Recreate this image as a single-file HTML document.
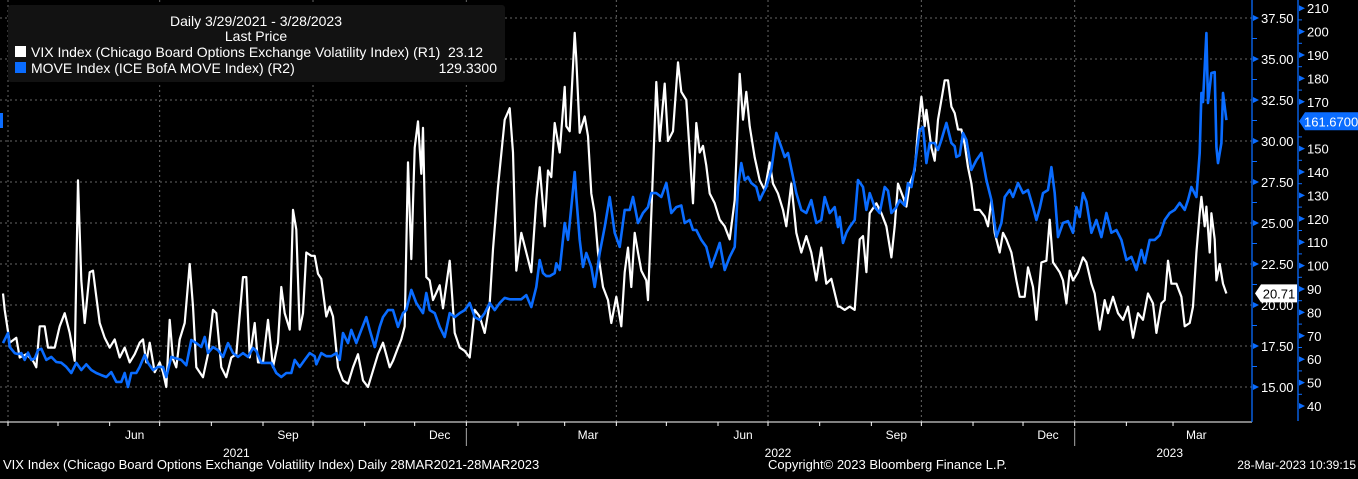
<!DOCTYPE html>
<html><head><meta charset="utf-8"><style>
html,body{margin:0;padding:0;background:#000;}
body{width:1358px;height:474px;overflow:hidden;font-family:"Liberation Sans",sans-serif;}
svg text{font-family:"Liberation Sans",sans-serif;}
</style></head><body>
<svg id="chart" width="1358" height="474" viewBox="0 0 1358 474" xmlns="http://www.w3.org/2000/svg">
<g id="grid"></g>
<g id="series"></g>
<g id="axes"></g>
<g>
<rect x="8" y="5" width="497" height="77" rx="3" fill="#121212"/>
<text x="256" y="26" fill="#fff" font-size="14" text-anchor="middle">Daily 3/29/2021 - 3/28/2023</text>
<text x="256" y="41" fill="#fff" font-size="14" text-anchor="middle">Last Price</text>
<rect x="15" y="46" width="11" height="11" fill="#fff"/>
<text x="31" y="57" fill="#fff" font-size="14">VIX Index (Chicago Board Options Exchange Volatility Index)  (R1)</text>
<text x="483" y="57" fill="#fff" font-size="14" text-anchor="end">23.12</text>
<rect x="15" y="62" width="11" height="11" fill="#0a6cff"/>
<text x="31" y="73" fill="#fff" font-size="14">MOVE Index (ICE BofA MOVE Index)  (R2)</text>
<text x="497" y="73" fill="#fff" font-size="14" text-anchor="end">129.3300</text>
</g>
<rect x="0" y="113" width="3" height="15" fill="#0a6cff"/>
<g>
<text x="3" y="469" fill="#fff" font-size="13">VIX Index (Chicago Board Options Exchange Volatility Index)  Daily 28MAR2021-28MAR2023</text>
<text x="768" y="469" fill="#fff" font-size="13">Copyright© 2023 Bloomberg Finance L.P.</text>
<text x="1356" y="469" fill="#fff" font-size="12" text-anchor="end">28-Mar-2023 10:39:15</text>
</g>
</svg>
<script>
const vixDays=[0,1,4,8,10,14,18,20,22,25,27,31,34,37,40,43,45,47,49,52,54,56,58,61,64,67,70,73,76,79,82,84,86,88,91,94,96,98,100,102,104,106,109,112,114,116,120,123,126,128,131,134,137,140,144,146,148,151,153,156,159,162,165,167,169,172,174,176,178,180,182,185,187,189,191,194,196,198,201,204,207,210,213,216,219,222,225,228,232,234,237,239,241,243,245,247,249,251,252,254,
256,258,262,264,268,271,274,277,280,283,286,289,292,294,297,301,304,306,308,311,314,317,320,322,325,327,329,331,334,337,338,340,343,344,346,349,351,353,355,357,360,363,365,368,371,373,375,377,379,381,383,386,387,390,392,394,397,399,402,405,407,410,412,414,416,418,420,422,424,427,430,433,436,439,442,444,446,448,451,454,457,460,462,465,468,470,473,476,479,482,485,488,491,494,497,501,
502,505,508,511,514,516,518,520,524,527,530,533,535,537,540,542,544,547,549,551,553,554,557,559,561,563,565,567,569,571,573,575,577,579,581,583,586,589,591,593,595,598,600,602,605,608,610,613,615,618,620,623,626,628,630,632,634,636,638,640,642,645,648,650,653,655,658,661,663,666,669,672,675,678,681,684,687,690,692,695,697,699,701,704,707,709,712,714,716,718,719,721,722,724,725,727,728,730,732,734];
const vixVals=[20.7,19.7,17.7,18,16.8,17,16.6,16.2,18.7,18.7,17.4,17.4,18.7,19.5,18.3,16.6,27.6,21.5,18.9,22,22.1,20.5,18.9,18,17.4,17.9,16.8,17.4,16.5,17,17.7,17.9,16.5,17.7,15.9,16.5,15.9,15,19.1,16.7,16.2,17.9,18.9,22.5,19.9,16.2,15.6,17,19.7,19.5,16.2,15.6,16.8,17,21.7,21.7,16.8,18.9,16.5,16.5,19.1,16.2,17.7,21.1,19.5,18.5,25.8,24.6,18.5,19.5,23.2,23,23,21.9,21.6,19.3,19.9,19.3,16.2,15.4,15.2,16.2,17,15.4,15,16,17,17.7,16.2,16.6,17.4,17.9,18.7,28.7,22.8,29.6,31.2,28,30.8,21.7,
21.5,20.3,21.2,19.8,22.7,18.3,17.4,17.2,16.8,19.7,19.3,18.3,20.1,23.4,27.2,31.3,32,29.3,22.1,24.4,23.2,22,26.4,28.4,24.8,28.2,27.8,31.1,29.3,33.3,30.9,30.6,36.6,35,30.5,31.5,30.3,26.8,25.6,23.2,21.1,20.3,18.9,20.5,18.7,22,23.5,21.1,24.4,23.2,22.1,21.5,20.3,28.2,33.6,30,33.5,30,30.6,34.8,33,32.5,29.3,26.2,31.1,29.3,29.7,28.5,26.8,26.2,25.2,24.8,24,26.4,34.1,31.3,33,30.9,29,27.6,27,28.7,27.4,26.8,25.8,24.8,27.4,24.4,23.2,24.2,23.2,21.5,23.5,21.3,21.6,19.9,
19.9,19.7,19.9,19.7,24,24.2,22,25.6,26.2,25.6,24.8,22.9,24.8,27.4,26.6,26,27.4,28.2,30.7,32.7,30.9,31.9,29.6,28.8,31.3,32.5,33.7,33.7,32.1,31.7,30.7,30.7,29.8,28.4,27.4,25.8,25.8,25.4,24.8,26.4,24.4,23.2,24.4,24,23.2,21.5,20.5,20.5,22.3,21.1,19.1,22.6,22.7,25.2,22.6,22.3,22,21.5,20.1,22.1,21.5,22,22.9,22.6,21.3,20.7,18.5,20.3,19.5,20.5,19.5,19.1,19.9,18,19.5,19.1,20.7,20.1,18.3,20.1,20.3,22.7,21.3,21.3,20.5,18.7,18.9,19.9,23.2,25.6,26.6,24.8,26,23.2,25.6,24,21.5,22.5,21.3,20.7];
const moveDays=[0,3,4,7,9,11,13,15,17,19,21,23,26,29,32,35,38,41,44,47,50,53,56,59,62,65,68,71,73,75,77,80,82,85,87,90,93,96,98,101,104,107,110,113,116,119,121,123,126,129,132,135,138,141,144,147,150,152,155,158,161,164,167,170,173,175,178,181,184,187,188,191,194,197,200,202,204,207,209,212,215,218,220,223,226,228,231,234,237,240,242,245,248,252,254,
256,259,262,265,268,271,274,277,280,283,286,289,292,295,298,301,304,308,311,314,317,320,322,324,326,328,331,332,334,337,339,341,343,344,346,348,350,353,355,358,361,364,367,370,373,376,378,381,384,387,389,392,395,398,401,404,407,409,412,414,416,419,422,425,428,430,433,436,439,441,443,445,447,449,452,454,456,458,461,464,467,469,471,474,476,479,482,485,488,491,493,496,499,501,
502,504,506,508,511,513,516,518,520,523,526,529,531,533,536,538,541,543,545,547,550,552,554,556,559,561,563,566,569,571,572,574,576,578,581,584,587,590,593,596,599,601,604,606,609,612,615,618,620,622,624,627,629,631,633,636,639,642,644,646,648,650,653,656,659,662,665,668,671,674,677,680,683,685,688,691,694,697,700,703,706,709,711,713,716,718,719,720,722,723,725,727,728,729,731,732,734];
const moveVals=[66.9,71.2,65.2,62.6,62.2,62.6,59.7,62.8,59.7,60.3,63.9,64.5,59.7,61,58.8,58.5,56.7,54.1,58.4,55.4,57.8,55.4,54.1,53.2,52.4,54.5,50.3,50.3,54.1,48.1,54.1,54.1,56.7,61.8,58.4,55.4,56.7,56.7,52.4,61,60.3,59.7,57.4,68.2,66.9,65.2,69.5,62.6,65.2,63.9,61,66.9,62.6,61,62.6,61,64.8,63.5,58.4,58.4,58.4,54.1,52.4,54.1,54.1,59.7,56.7,59.7,62.6,61.3,57.8,62.6,61.3,61.3,62.6,59.7,71.2,66.9,72.5,66.9,72.5,78,72.5,65.2,73.8,78,81,81,73.8,79.7,81,89.6,84,79.7,88.3,
81,79.7,73.8,69.5,79.7,78,79.7,81,84,78,76.8,79.7,84,81,84,86.2,85.6,85.6,85.6,87.4,82.3,90.9,102.4,96.8,95.5,95.5,96.8,101,98.1,118.2,111,125,140,129.3,111,99.4,105.4,99.4,90.9,105.4,116.5,129.3,114,108,123.8,123.8,129.3,118.2,122.5,125,131,131,129.3,135.3,122.5,125,125.7,118.2,119.5,115.2,115.2,111,108,99.4,105.4,109.7,98.1,103.7,108,133.6,143.8,136.6,137.9,135.3,133.6,128,131,133.6,140.9,156.7,150.7,146.4,148.1,137.9,131,123.8,122.5,128,118.2,119.5,129.3,122.5,125,116.5,
120.8,109.7,114,116.5,119.5,136.6,133.6,123.8,131,125,122.5,133.6,132,122.5,125,128,125.7,135.3,133.6,142.1,158,159.2,143.8,152.4,152.4,149.4,153.7,161,152.4,151,146.4,147.2,156.7,153.7,140.9,145.1,148.1,136.6,128,112.2,118.2,129.3,132.3,129.3,135.3,131,132.3,125,119.5,124.5,131,132.3,142.1,131,112.2,118.2,119,114,125,120.8,131,127.4,114,119.5,112.2,122.5,114,115.2,111,102.4,103.7,98.1,106.7,101.1,111,111,113,119.5,122.5,123.8,126.8,123.8,128,133.6,129.3,148.1,173.8,169.9,199.4,169.5,182.3,182.7,150.7,143.8,152.4,173.8,162.2];
const vixTicks=[15,17.5,20,22.5,25,27.5,30,32.5,35,37.5];
const moveTicks=[40,50,60,70,80,90,100,110,120,130,140,150,170,180,190,200,210];
const quarterDays=[3,94,186,278,368,459,551,643];
const monthDays=[3,33,64,94,125,156,186,217,247,278,309,337,368,398,429,459,490,521,551,582,612,643,674,702];
const monthLabels=["Jun","Sep","Dec","Mar","Jun","Sep","Dec","Mar"];
const monthLabelDays=[79,171,262,351,444,536,627,716];
const yearLabels=["2021","2022","2023"];
const yearLabelDays=[140,465,700];
const yearSepDays=[278,643];
const lastVix=20.71, lastMove=161.67;

const X=d=>3+d*1.6667;
const YV=v=>387-(v-15)*16.4;
const YM=m=>406-(m-40)*2.34;
const NS="http://www.w3.org/2000/svg";
function mk(tag,attrs,parent){const e=document.createElementNS(NS,tag);for(const k in attrs)e.setAttribute(k,attrs[k]);parent.appendChild(e);return e;}
const grid=document.getElementById('grid'),series=document.getElementById('series'),axes=document.getElementById('axes');
vixTicks.forEach(t=>{const l=mk('line',{x1:0,x2:1252,y1:YV(t),y2:YV(t),stroke:'#666','stroke-width':1,'stroke-dasharray':'2,3'},grid);

});
quarterDays.forEach(d=>{const l=mk('line',{x1:X(d),x2:X(d),y1:0,y2:422,stroke:'#666','stroke-width':1,'stroke-dasharray':'2,3'},grid);

});
function path(days,vals,Y){let s='';const n=Math.min(days.length,vals.length);for(let i=0;i<n;i++)s+=(i?'L':'M')+X(days[i]).toFixed(1)+','+Y(vals[i]).toFixed(1);return s;}
const pv=mk('path',{d:path(vixDays,vixVals,YV),fill:'none',stroke:'#fff','stroke-width':2.2,'stroke-linejoin':'round'},series);


const pm=mk('path',{d:path(moveDays,moveVals,YM),fill:'none',stroke:'#0a6cff','stroke-width':2.6,'stroke-linejoin':'round'},series);


mk('line',{x1:0,x2:1252,y1:422,y2:422,stroke:'#fff','stroke-width':1},axes);
monthDays.forEach(d=>{mk('line',{x1:X(d),x2:X(d),y1:422,y2:426,stroke:'#fff','stroke-width':1},axes);});
monthLabels.forEach((m,i)=>{const t=mk('text',{x:X(monthLabelDays[i]),y:439,fill:'#fff','font-size':12,'text-anchor':'middle'},axes);t.textContent=m;

});
yearLabels.forEach((m,i)=>{const t=mk('text',{x:X(yearLabelDays[i]),y:457,fill:'#fff','font-size':12,'text-anchor':'middle'},axes);t.textContent=m;

});
yearSepDays.forEach(d=>{mk('line',{x1:X(d),x2:X(d),y1:428,y2:446,stroke:'#aaa','stroke-width':1},axes);});
mk('line',{x1:1252,x2:1252,y1:0,y2:422,stroke:'#0a6cff','stroke-width':1.3},axes);
mk('line',{x1:1298,x2:1298,y1:0,y2:421,stroke:'#0a6cff','stroke-width':1.3},axes);
vixTicks.forEach(t=>{const y=YV(t);mk('path',{d:`M1253,${y-3}L1259,${y}L1253,${y+3}Z`,fill:'#0a6cff'},axes);
mk('line',{x1:1252,x2:1257,y1:YV(t+1.25),y2:YV(t+1.25),stroke:'#0a6cff'},axes);
const tx=mk('text',{x:1261,y:y+5,fill:'#fff','font-size':13},axes);tx.textContent=t.toFixed(2);

});
moveTicks.forEach(t=>{const y=YM(t);mk('path',{d:`M1299,${y-3}L1305,${y}L1299,${y+3}Z`,fill:'#0a6cff'},axes);
mk('line',{x1:1298,x2:1302,y1:YM(t+5),y2:YM(t+5),stroke:'#0a6cff'},axes);
const tx=mk('text',{x:1307,y:y+5,fill:'#fff','font-size':13},axes);tx.textContent=t;

});
const yv=YV(lastVix);
const gv=mk('g',{},axes);


mk('path',{d:`M1255,${yv}L1261,${yv-9}L1297,${yv-9}L1297,${yv+9}L1261,${yv+9}Z`,fill:'#fff'},gv);
const tv=mk('text',{x:1279,y:yv+5,fill:'#000','font-size':13,'text-anchor':'middle'},gv);tv.textContent=lastVix.toFixed(2);
const ym=YM(lastMove);
const gm=mk('g',{},axes);


mk('path',{d:`M1299,${ym}L1305,${ym-9}L1358,${ym-9}L1358,${ym+9}L1305,${ym+9}Z`,fill:'#0a6cff'},gm);
const tm=mk('text',{x:1304,y:ym+5,fill:'#fff','font-size':13},gm);tm.textContent=lastMove.toFixed(4);
</script>
</body></html>
